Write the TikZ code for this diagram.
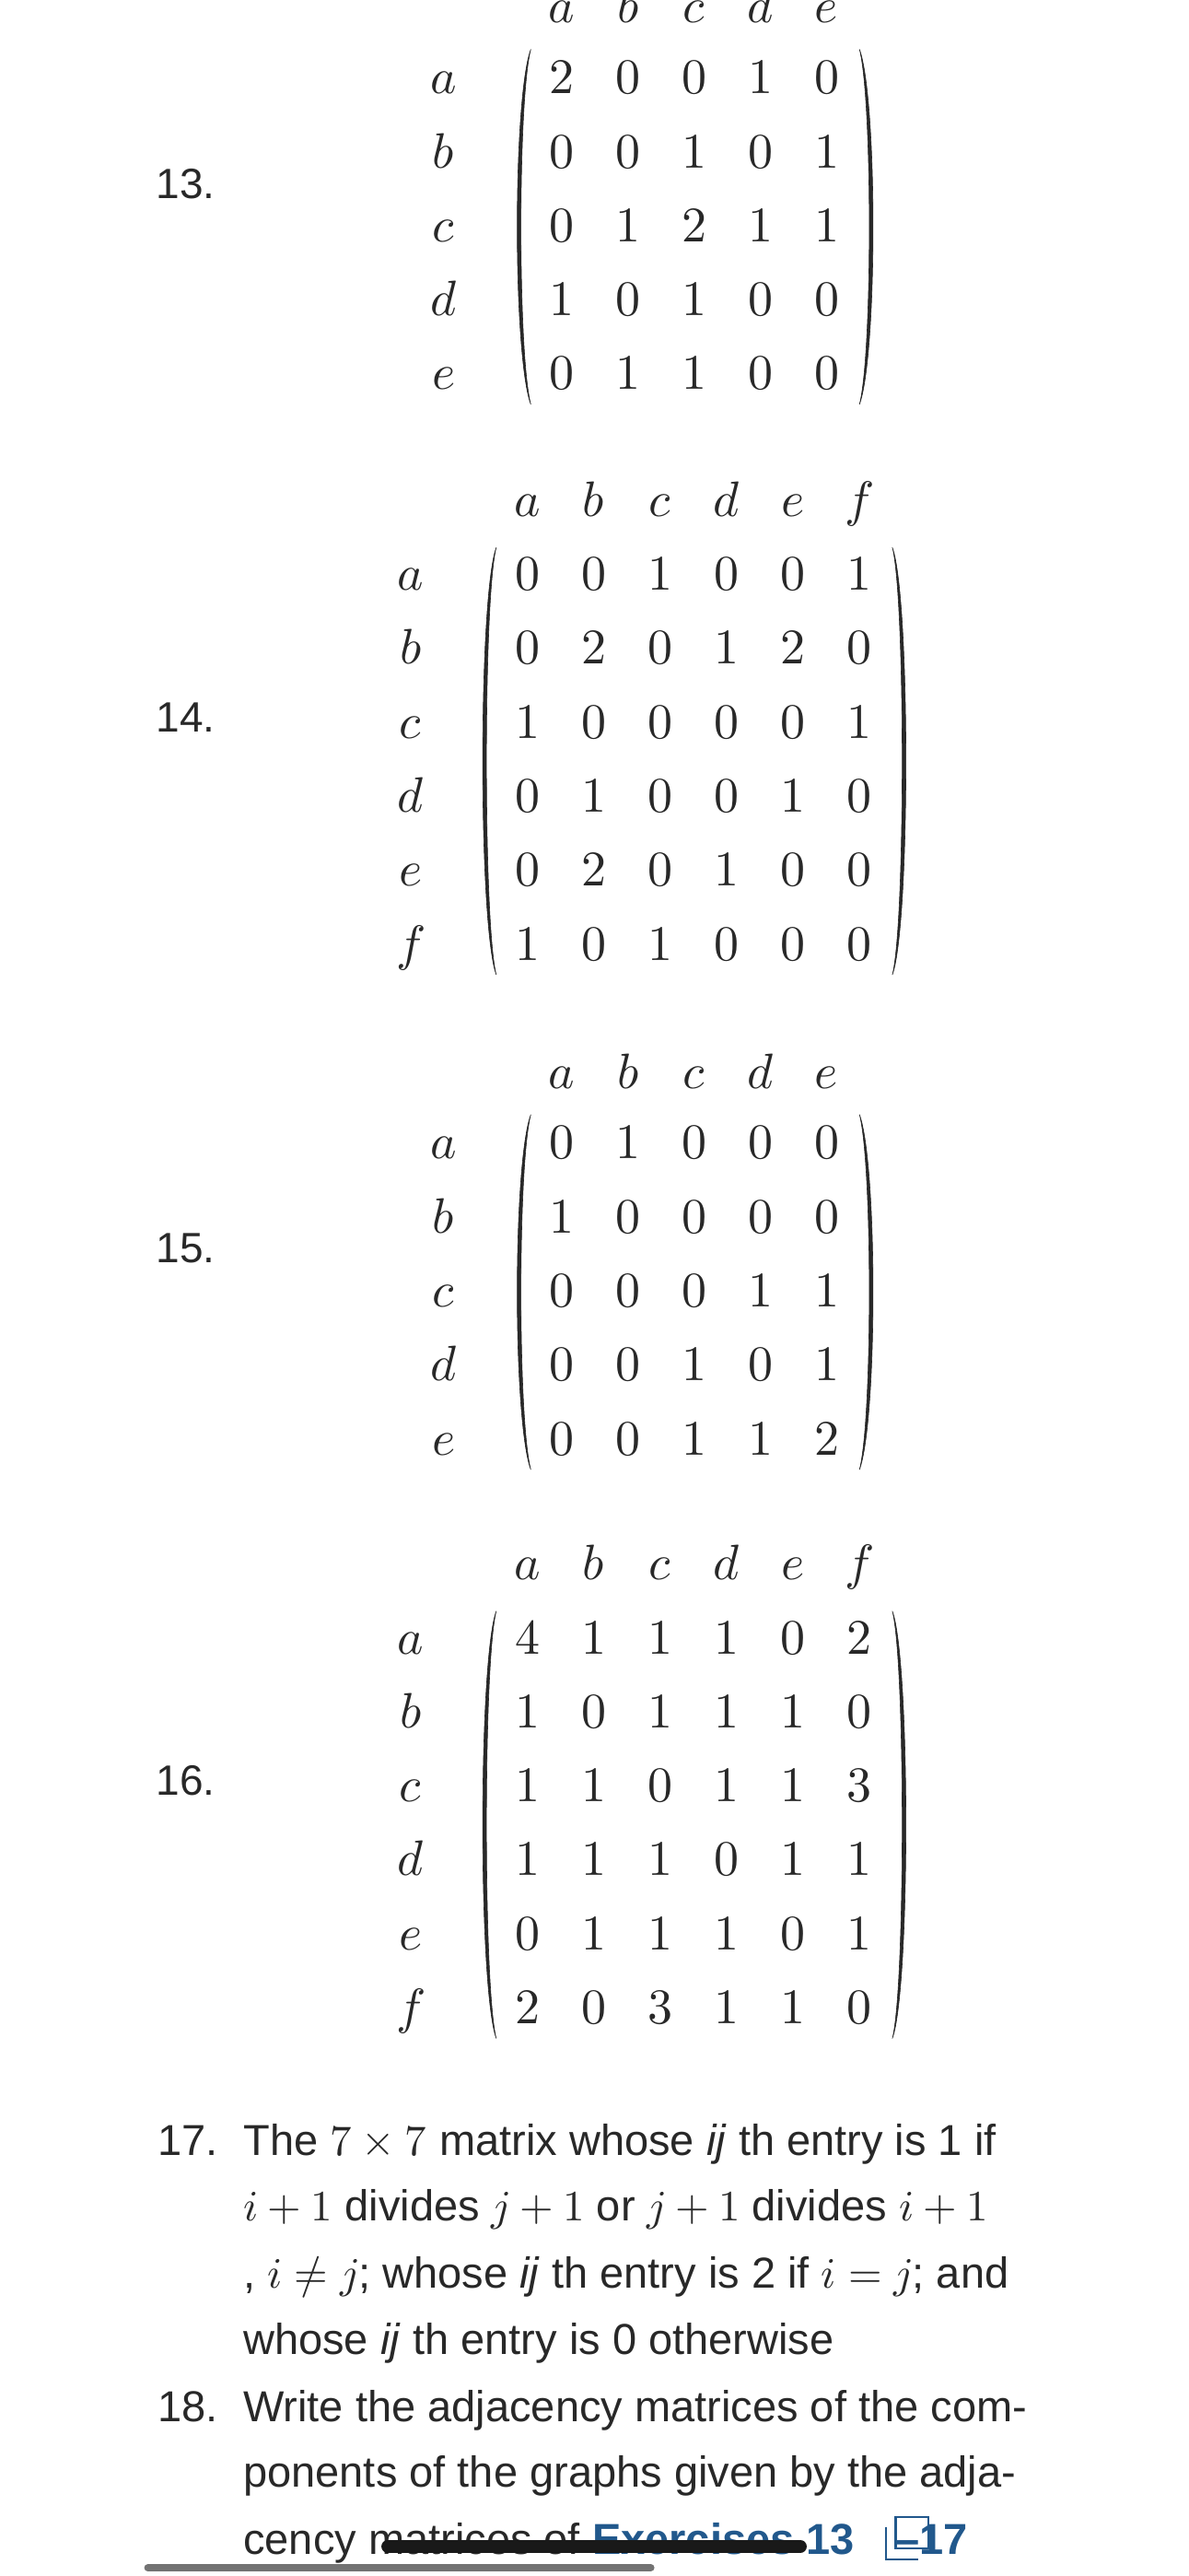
\documentclass[tikz,border=0pt]{standalone}
\usepackage{fontspec}
\usepackage{unicode-math}
\setmathfont{Latin Modern Math}
\setsansfont{Liberation Sans}
\usetikzlibrary{calc}
\definecolor{ink}{RGB}{40,40,40}
\definecolor{linkblue}{RGB}{33,88,140}
\tikzset{
  ent/.style={font=\fontsize{54}{60}\selectfont, text=ink, inner sep=0pt, anchor=base},
  lab/.style={font=\fontsize{46}{50}\selectfont\sffamily, text=ink, inner sep=0pt, anchor=base},
  txt/.style={font=\fontsize{47}{52}\selectfont\sffamily, text=ink, inner sep=0pt, anchor=base west},
  paren/.style={fill=ink, draw=ink, line width=0.6pt}
}
\newcommand{\myLparen}[3]{% x, ytop, ybot
  \fill[paren] (#1+6,#2) .. controls (#1-5,#2+30) and (#1-5,#3-30) .. (#1+6,#3)
     .. controls (#1-2,#3-30) and (#1-2,#2+30) .. cycle;}
\newcommand{\myRparen}[3]{%
  \fill[paren] (#1-6,#2) .. controls (#1+5,#2+30) and (#1+5,#3-30) .. (#1-6,#3)
     .. controls (#1+2,#3-30) and (#1+2,#2+30) .. cycle;}
\newcommand{\mymatlabels}[8]{%
  \foreach \c [count=\j] in {#6} {
    \node[ent] (#1h\j) at ({#2+(\j-1)*#3},#5+9) {$\c$};
  }
  \foreach \r [count=\i] in {#7} {
    \node[ent] (#1l\i) at (#4,{#8+(\i-1)*45+9}) {$\r$};
  }
}
\newcommand{\mymatrow}[5]{% name, x0, dx, y, entries
  \foreach \v [count=\j] in {#5} {
    \node[ent] (#1\j) at ({#2+(\j-1)*#3},#4+9) {$\v$};
  }
}
\begin{document}
\begin{tikzpicture}[x=1.784pt,y=-1.784pt]
\useasboundingbox (0,0) rectangle (723,1567);
\fill[white] (0,0) rectangle (723,1567);

% ---------- 13
\node[lab] (n13) at (113,121) {13.};
\mymatlabels{A}{342}{40.25}{270}{5}{a,b,c,d,e}{a,b,c,d,e}{48}
\mymatrow{Aa}{342}{40.25}{48}{2,0,0,1,0}
\mymatrow{Ab}{342}{40.25}{93}{0,0,1,0,1}
\mymatrow{Ac}{342}{40.25}{138}{0,1,2,1,1}
\mymatrow{Ad}{342}{40.25}{183}{1,0,1,0,0}
\mymatrow{Ae}{342}{40.25}{228}{0,1,1,0,0}
\myLparen{317}{30}{246}
\myRparen{529}{30}{246}

% ---------- 14
\node[lab] (n14) at (113,445) {14.};
\mymatlabels{B}{321}{40.4}{250}{305}{a,b,c,d,e,f}{a,b,c,d,e,f}{350}
\mymatrow{Ba}{321}{40.4}{350}{0,0,1,0,0,1}
\mymatrow{Bb}{321}{40.4}{395}{0,2,0,1,2,0}
\mymatrow{Bc}{321}{40.4}{440}{1,0,0,0,0,1}
\mymatrow{Bd}{321}{40.4}{485}{0,1,0,0,1,0}
\mymatrow{Be}{321}{40.4}{530}{0,2,0,1,0,0}
\mymatrow{Bf}{321}{40.4}{575}{1,0,1,0,0,0}
\myLparen{296}{333}{593}
\myRparen{549}{333}{593}

% ---------- 15
\node[lab] (n15) at (113,768) {15.};
\mymatlabels{C}{342}{40.25}{270}{653}{a,b,c,d,e}{a,b,c,d,e}{696}
\mymatrow{Ca}{342}{40.25}{696}{0,1,0,0,0}
\mymatrow{Cb}{342}{40.25}{741}{1,0,0,0,0}
\mymatrow{Cc}{342}{40.25}{786}{0,0,0,1,1}
\mymatrow{Cd}{342}{40.25}{831}{0,0,1,0,1}
\mymatrow{Ce}{342}{40.25}{876}{0,0,1,1,2}
\myLparen{317}{678}{894}
\myRparen{529}{678}{894}

% ---------- 16
\node[lab] (n16) at (113,1092) {16.};
\mymatlabels{D}{321}{40.4}{250}{952}{a,b,c,d,e,f}{a,b,c,d,e,f}{997}
\mymatrow{Da}{321}{40.4}{997}{4,1,1,1,0,2}
\mymatrow{Db}{321}{40.4}{1042}{1,0,1,1,1,0}
\mymatrow{Dc}{321}{40.4}{1087}{1,1,0,1,1,3}
\mymatrow{Dd}{321}{40.4}{1132}{1,1,1,0,1,1}
\mymatrow{De}{321}{40.4}{1177}{0,1,1,1,0,1}
\mymatrow{Df}{321}{40.4}{1222}{2,0,3,1,1,0}
\myLparen{296}{980}{1240}
\myRparen{549}{980}{1240}

% ---------- 17 / 18
\node[txt] (n17) at (96,1311) {17.};
\node[txt] (t17a) at (148,1311) {The $7\times7$ matrix whose \textit{ij} th entry is 1 if};
\node[txt] (t17b) at (148,1351) {$i+1$ divides $j+1$ or $j+1$ divides $i+1$};
\node[txt] (t17c) at (148,1392) {, $i\neq j$; whose \textit{ij} th entry is 2 if $i=j$; and};
\node[txt] (t17d) at (148,1432) {whose \textit{ij} th entry is 0 otherwise};
\node[txt] (n18) at (96,1473) {18.};
\node[txt] (t18a) at (148,1473) {Write the adjacency matrices of the com-};
\node[txt] (t18b) at (148,1513) {ponents of the graphs given by the adja-};
\node[txt] (t18c) at (148,1554) {cency matrices of \textcolor{linkblue}{\bfseries Exercises 13}\hspace{44pt}\textcolor{linkblue}{\bfseries--17}};
% link icon
\draw[linkblue, line width=2.2pt] (539,1537) -- (539,1557) -- (559,1557);
\draw[linkblue, line width=2.2pt] (545,1531) rectangle (565,1550);
% bars
\draw[black!90, line width=14pt, line cap=round] (236,1549) -- (487,1549);
\draw[black!55, line width=8pt, line cap=round] (90,1562) -- (396,1562);
\end{tikzpicture}
\end{document}
